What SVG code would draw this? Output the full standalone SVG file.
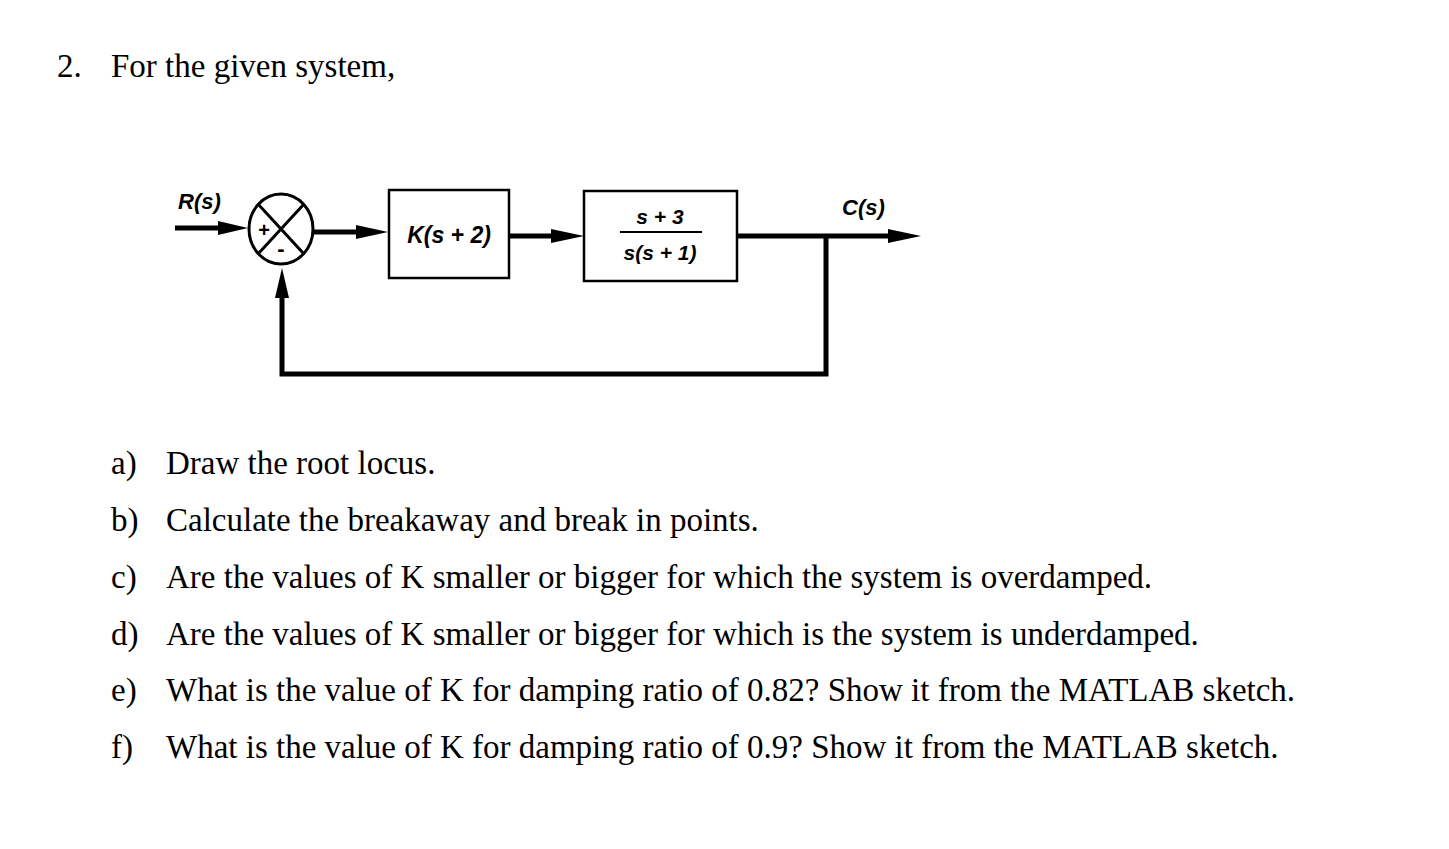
<svg xmlns="http://www.w3.org/2000/svg" width="1449" height="849" viewBox="0 0 1449 849">
<style>
.t{font-family:"Liberation Serif",serif;font-size:33px;fill:#000}
.d{font-family:"Liberation Sans",sans-serif;font-weight:bold;fill:#000}
.w{stroke:#000;stroke-width:5;fill:none}
.b{stroke:#000;stroke-width:2.5;fill:#fff}
</style>
<rect width="1449" height="849" fill="#fff"/>
<text class="t" x="57" y="77">2.</text>
<text class="t" x="111" y="77">For the given system,</text>
<g id="connectors">
<path class="w" d="M175,228 H220"/><path d="M218,221 L248,228 L218,235z"/>
<path class="w" d="M313,232 H360"/><path d="M356,225 L388,232 L356,239z"/>
<path class="w" d="M509,236 H555"/><path d="M551,229 L584,236 L551,243z"/>
<path class="w" d="M737,236 H892"/><path d="M888,229 L921,236 L888,243z"/>
<path class="w" d="M826,236 V374 H282 V295"/><path d="M275,298 L282,268 L289,298z"/>
</g>
<g id="sum">
<ellipse cx="281" cy="229" rx="32" ry="35" stroke="#000" stroke-width="3" fill="#fff"/>
<path d="M258,204 L304,254 M304,204 L258,254" stroke="#000" stroke-width="3"/>
<text class="d" x="264" y="237" font-size="20" text-anchor="middle">+</text>
<text class="d" x="281" y="256" font-size="22" text-anchor="middle">-</text>
</g>
<g id="rlabel"><text class="d" x="178" y="209" font-size="22" font-style="italic">R(s)</text></g>
<g id="clabel"><text class="d" x="842" y="215" font-size="22" font-style="italic">C(s)</text></g>
<g id="g1"><rect class="b" x="389" y="190" width="120" height="88"/>
<text class="d" x="449" y="243" font-size="23" text-anchor="middle" font-style="italic">K(s + 2)</text></g>
<g id="g2"><rect class="b" x="584" y="191" width="153" height="90"/>
<text class="d" x="660" y="224" font-size="21" text-anchor="middle" font-style="italic">s + 3</text>
<line x1="620" y1="232" x2="702" y2="232" stroke="#000" stroke-width="2"/>
<text class="d" x="660" y="260" font-size="21" text-anchor="middle" font-style="italic">s(s + 1)</text></g>
<g class="t">
<text x="111" y="474">a)</text><text x="166" y="474">Draw the root locus.</text>
<text x="111" y="531">b)</text><text x="166" y="531">Calculate the breakaway and break in points.</text>
<text x="111" y="588">c)</text><text x="166" y="588">Are the values of K smaller or bigger for which the system is overdamped.</text>
<text x="111" y="645">d)</text><text x="166" y="645">Are the values of K smaller or bigger for which is the system is underdamped.</text>
<text x="111" y="701">e)</text><text x="166" y="701">What is the value of K for damping ratio of 0.82? Show it from the MATLAB sketch.</text>
<text x="111" y="758">f)</text><text x="166" y="758">What is the value of K for damping ratio of 0.9? Show it from the MATLAB sketch.</text>
</g>
</svg>
